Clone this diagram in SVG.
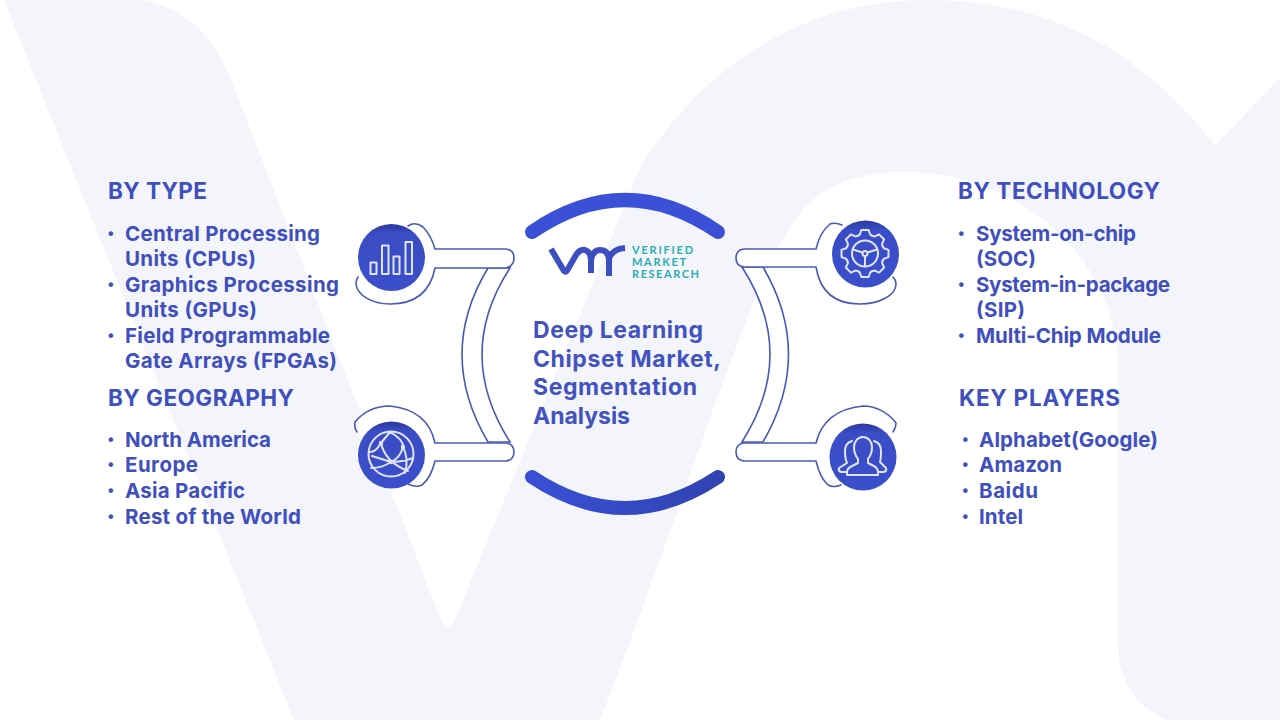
<svg xmlns="http://www.w3.org/2000/svg" width="1280" height="720" viewBox="0 0 1280 720">
<style>
.h{font:650 22.5px Inter,"Liberation Sans",sans-serif;fill:#3f4fbd}
.i{font:650 20.5px Inter,"Liberation Sans",sans-serif;fill:#3f4fbd}
.b{font:700 16px "Liberation Sans",sans-serif;fill:#3f4fbd}
.t{font:650 23px Inter,"Liberation Sans",sans-serif;fill:#4253bf}
.l{font:700 11px Lato,"Liberation Sans",sans-serif;fill:#28adb2}
.c{fill:#fff;stroke:#4a59b8;stroke-width:1.6;stroke-linejoin:round;stroke-linecap:round}
.a{fill:#fff;stroke:#4a59b8;stroke-width:1.6}
.w{fill:none;stroke:#dfe4f8;stroke-width:2;stroke-linejoin:round;stroke-linecap:round}
.d{fill:url(#g)}
.arc{fill:none;stroke:#3a50d6;stroke-width:14;stroke-linecap:round}
</style>
<defs>
<linearGradient id="g" x1="0" y1="0" x2="0" y2="1"><stop offset="0" stop-color="#2a379c"/><stop offset=".14" stop-color="#3a4dc6"/><stop offset="1" stop-color="#3b4fcb"/></linearGradient>
<linearGradient id="ab" gradientUnits="userSpaceOnUse" x1="525" y1="0" x2="725" y2="0"><stop offset="0" stop-color="#3a50d6"/><stop offset="1" stop-color="#2f43b0"/></linearGradient>
<path id="tooth" d="M-7.3-17.6Q-5.8-18.4-5.2-19L-3.6-23.500H3.600L5.200-19Q5.800-18.400 7.300-17.600"/>
</defs>
<rect width="1280" height="720" fill="#fff"/>
<path id="watermark" fill="#f3f5fb" d="M4 0H143C185 8 215 35 235 90L441 620Q449 634 455 620L640 168C700 70 800 0 926 0C1050 0 1140 50 1215 145L1280 78V720H1166C1135 705 1118 680 1118 643V367C1118 260 1020 172 905 172C850 172 815 190 795 220C750 280 690 490 600 720H294Z"/>
<g id="connectors">
<path class="a" d="M488 268Q436 354 488 442H510Q454 354 510 268Z"/>
<path class="a" d="M742 267H763Q814 354 763 442H742Q798 354 742 267Z"/>
<path class="c" d="M408 226Q415 221 423 227Q431 235 435 249H506Q514 250 514 258Q514 266 506 268H435Q428 304 390 304C372 304 357 295 356 284Q356 280 358 277"/>
<path class="c" d="M357 432Q354 428 355 422C365 410 378 406 390 406Q428 410 435 443H506Q514 444 514 452Q514 460 506 461H435Q431 478 422 485Q416 488 408 484"/>
<path class="c" d="M842 225Q835 222 830 224Q820 232 816 249H744Q736 250 736 258Q736 266 744 267H816Q822 304 860 304C878 304 896 296 896 284Q896 280 893 277"/>
<path class="c" d="M893 432Q896 428 896 423C888 412 875 406 863 406Q824 410 816 443H744Q736 444 736 452Q736 460 744 461H816Q820 478 828 485Q834 488 841 485"/>
</g>
<g id="center">
<path class="arc" d="M532 232Q625 168 718 232"/>
<path class="arc" stroke="url(#ab)" style="stroke:url(#ab)" d="M532 477Q625 539 718 477"/>
<g id="logo">
<path d="M551 249L564 271Q566 273 568 269L576 255Q580 249 585 250Q591 252 591 260V273M591 260Q593 250 600 250Q608 250 609 259V276M609 259Q612 249 625 248" fill="none" stroke="#3b4fc0" stroke-width="6"/>
<text class="l" x="632" y="254" textLength="61">VERIFIED</text>
<text class="l" x="632" y="266" textLength="54">MARKET</text>
<text class="l" x="632" y="278" textLength="67">RESEARCH</text>
</g>
<text class="t" x="533" y="338" textLength="170">Deep Learning</text>
<text class="t" x="533" y="367" textLength="188">Chipset Market,</text>
<text class="t" x="533" y="395" textLength="164">Segmentation</text>
<text class="t" x="533" y="424" textLength="97">Analysis</text>
</g>
<g id="node-type">
<circle class="d" cx="391.5" cy="257.5" r="33.5"/>
<path class="w" d="M370.500 262.500h6v11.500h-6zM382 245.500h6.500v28.500h-6.500zM393.500 256.500h6v17.500h-6zM405.500 242h6.500v32h-6.500z"/>
<text class="h" x="108" y="199" textLength="99">BY TYPE</text>
<text class="b" x="108" y="239">•</text><text class="i" x="125" y="241" textLength="195">Central Processing</text>
<text class="i" x="125" y="266" textLength="131">Units (CPUs)</text>
<text class="b" x="108" y="290">•</text><text class="i" x="125" y="292" textLength="214">Graphics Processing</text>
<text class="i" x="125" y="317" textLength="132">Units (GPUs)</text>
<text class="b" x="108" y="341">•</text><text class="i" x="125" y="343" textLength="205">Field Programmable</text>
<text class="i" x="125" y="368" textLength="212">Gate Arrays (FPGAs)</text>
</g>
<g id="node-geography">
<circle class="d" cx="391.500" cy="455" r="33.500"/>
<circle class="w" cx="391" cy="454" r="22.500"/>
<path class="w" d="M390 432L381 443Q376 452 370 452M381 443Q385 462 408 471M390 432Q404 440 403 447Q409 458 405 473M403 447Q400 458 391 462Q382 468 371 468M391 462Q402 462 413 458M372 456L391 462"/>
<circle cx="381" cy="443" r="2.200" fill="#dfe4f8"/><circle cx="403" cy="447" r="2.200" fill="#dfe4f8"/><circle cx="391" cy="462" r="2.200" fill="#dfe4f8"/>
<text class="h" x="108" y="406" textLength="186">BY GEOGRAPHY</text>
<text class="b" x="108" y="445">•</text><text class="i" x="125" y="447" textLength="146">North America</text>
<text class="b" x="108" y="470">•</text><text class="i" x="125" y="472" textLength="73">Europe</text>
<text class="b" x="108" y="496">•</text><text class="i" x="125" y="498" textLength="120">Asia Pacific</text>
<text class="b" x="108" y="522">•</text><text class="i" x="125" y="524" textLength="176">Rest of the World</text>
</g>
<g id="node-technology">
<circle class="d" cx="865.500" cy="254" r="33.500"/>
<g class="w" transform="translate(865 253.500)">
<use href="#tooth"/><use href="#tooth" transform="rotate(45)"/><use href="#tooth" transform="rotate(90)"/><use href="#tooth" transform="rotate(135)"/><use href="#tooth" transform="rotate(180)"/><use href="#tooth" transform="rotate(225)"/><use href="#tooth" transform="rotate(270)"/><use href="#tooth" transform="rotate(315)"/>
<circle r="13"/><circle r="2.500"/>
<path d="M-2.500-1L-12-4M2.500-1L12-4M0 2.500V13"/>
</g>
<text class="h" x="958" y="199" textLength="202">BY TECHNOLOGY</text>
<text class="b" x="958.500" y="239">•</text><text class="i" x="976" y="241" textLength="160">System-on-chip</text>
<text class="i" x="976" y="266" textLength="60">(SOC)</text>
<text class="b" x="958.500" y="290">•</text><text class="i" x="976" y="292" textLength="194">System-in-package</text>
<text class="i" x="976" y="317" textLength="49">(SIP)</text>
<text class="b" x="958.500" y="341">•</text><text class="i" x="976" y="343" textLength="185">Multi-Chip Module</text>
</g>
<g id="node-players">
<circle class="d" cx="863" cy="457" r="33.500"/>
<path class="w" d="M847 475V472Q847 468 853 465.500L858 463V459Q854 454 854 447A9 10 0 0 1 872 447Q872 454 868 459V463L873 465.500Q878 468 878 472V475Z"/>
<path class="w" d="M852 441Q845 443 845 451Q845 459 847 463L839 468Q838 471 841 472H846M874 441Q881 443 881 451Q881 459 880 462L886 468Q887 471 884 472H878"/>
<text class="h" x="959" y="406" textLength="161">KEY PLAYERS</text>
<text class="b" x="962.500" y="445">•</text><text class="i" x="979" y="447" textLength="179">Alphabet(Google)</text>
<text class="b" x="962.500" y="470">•</text><text class="i" x="979" y="472" textLength="83">Amazon</text>
<text class="b" x="962.500" y="496">•</text><text class="i" x="979" y="498" textLength="59">Baidu</text>
<text class="b" x="962.500" y="522">•</text><text class="i" x="979" y="524" textLength="44">Intel</text>
</g>
</svg>
